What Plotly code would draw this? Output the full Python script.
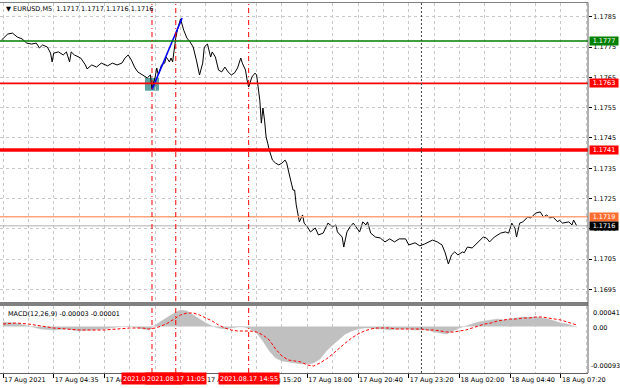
import plotly.graph_objects as go

W, H = 620, 388
FONT = "DejaVu Sans"
FS = 6.5

# ---------------- data ----------------
price_idx = [-1, 3, 6, 9, 12, 15, 18, 21, 23, 25, 28, 30, 31, 32, 35, 38, 40, 42, 43, 45,
             49, 52, 53, 56, 59, 62, 66, 69, 72, 75, 77, 79, 81, 83, 85, 88, 90, 91, 93, 94,
             96, 97, 98, 100, 102, 103, 105, 106, 107, 108, 109, 110, 111, 112, 114, 116, 118, 120, 122, 124,
             126, 127, 129, 131, 132, 134, 136, 138, 140, 142, 144, 146, 148, 150, 151, 153, 154, 155, 157, 159,
             160, 161, 162, 163, 164, 165, 166, 167, 168, 170, 172, 174, 176, 178, 179, 181, 183, 184, 185, 187,
             189, 190, 192, 194, 197, 199, 202, 205, 208, 210, 211, 214, 215, 217, 219, 221, 223, 225, 227, 229,
             230, 232, 235, 238, 241, 244, 247, 250, 254, 256, 260, 263, 266, 269, 271, 274, 277, 279, 281, 283,
             285, 287, 290, 291, 293, 296, 300, 303, 305, 307, 310, 314, 317, 319, 321, 323, 324, 326, 328, 331,
             333, 336, 339, 341, 343, 345, 347, 350, 351, 353, 357, 359, 360, 362]
price_val = [1.17773, 1.17793, 1.17796, 1.17783, 1.17777, 1.17763, 1.17760, 1.17763, 1.17747, 1.17757,
             1.17750, 1.17730, 1.17701, 1.17730, 1.17734, 1.17724, 1.17734, 1.17701, 1.17734, 1.17724,
             1.17714, 1.17691, 1.17678, 1.17691, 1.17684, 1.17697, 1.17688, 1.17697, 1.17691, 1.17697,
             1.17714, 1.17724, 1.17707, 1.17684, 1.17668, 1.17658, 1.17651, 1.17648, 1.17658, 1.17612,
             1.17651, 1.17681, 1.17658, 1.17691, 1.17697, 1.17717, 1.17701, 1.17714, 1.17701, 1.17750,
             1.17780, 1.17806, 1.17823, 1.17843, 1.17806, 1.17780, 1.17767, 1.17750, 1.17707, 1.17658,
             1.17697, 1.17750, 1.17760, 1.17717, 1.17734, 1.17717, 1.17674, 1.17668, 1.17684, 1.17668,
             1.17658, 1.17664, 1.17681, 1.17714, 1.17697, 1.17674, 1.17641, 1.17618, 1.17651, 1.17664,
             1.17658, 1.17608, 1.17575, 1.17499, 1.17549, 1.17509, 1.17453, 1.17433, 1.17410, 1.17377,
             1.17367, 1.17361, 1.17367, 1.17377, 1.17367, 1.17321, 1.17278, 1.17278, 1.17229, 1.17173,
             1.17196, 1.17169, 1.17157, 1.17140, 1.17153, 1.17130, 1.17136, 1.17169, 1.17157, 1.17163,
             1.17140, 1.17123, 1.17090, 1.17140, 1.17157, 1.17169, 1.17153, 1.17140, 1.17173, 1.17163,
             1.17173, 1.17136, 1.17123, 1.17120, 1.17107, 1.17117, 1.17107, 1.17117, 1.17117, 1.17097,
             1.17104, 1.17094, 1.17100, 1.17107, 1.17113, 1.17107, 1.17097, 1.17071, 1.17034, 1.17064,
             1.17074, 1.17064, 1.17074, 1.17071, 1.17090, 1.17087, 1.17107, 1.17123, 1.17120, 1.17107,
             1.17123, 1.17136, 1.17140, 1.17136, 1.17169, 1.17153, 1.17123, 1.17169, 1.17173, 1.17189,
             1.17186, 1.17202, 1.17206, 1.17189, 1.17196, 1.17186, 1.17189, 1.17173, 1.17179, 1.17169,
             1.17173, 1.17163, 1.17179, 1.17160]

macd_idx = [0, 8, 16, 24, 32, 40, 48, 56, 64, 72, 80, 88, 92, 96, 100, 104, 108, 112, 116, 120,
            124, 128, 132, 136, 140, 144, 148, 152, 156, 160, 164, 168, 172, 176, 180, 184, 188, 192, 196, 200,
            204, 208, 212, 216, 220, 224, 228, 232, 236, 240, 244, 248, 252, 256, 260, 264, 268, 272, 276, 280,
            284, 288, 292, 296, 300, 304, 308, 312, 316, 320, 324, 328, 332, 336, 340, 344, 348, 352, 356, 360, 362]
macd_hist = [0.00009, 0.00007, 0.00001, -0.00005, -0.00007, -0.00005, -0.00009, -0.00007, -0.00005, -0.00001,
             0.00001, -0.00005, -0.00007, 0.00003, 0.00011, 0.00019, 0.00027, 0.00033, 0.00031, 0.00023,
             0.00015, 0.00007, 0.00001, -0.00003, -0.00005, -0.00003, -0.00001, -0.00001, -0.00005, -0.00013,
             -0.00029, -0.00049, -0.00063, -0.00069, -0.00071, -0.00073, -0.00075, -0.00075, -0.00073, -0.00065,
             -0.00049, -0.00037, -0.00025, -0.00015, -0.00009, -0.00005, -0.00003, -0.00003, -0.00005, -0.00005,
             -0.00007, -0.00005, -0.00005, -0.00005, -0.00007, -0.00007, -0.00007, -0.00011, -0.00013, -0.00015,
             -0.00009, -0.00003, 0.00001, 0.00005, 0.00009, 0.00011, 0.00013, 0.00015, 0.00013, 0.00015,
             0.00017, 0.00019, 0.00019, 0.00019, 0.00017, 0.00015, 0.00011, 0.00007, 0.00005, 0.00001, -0.00001]
macd_signal = [0.00005, 0.00007, 0.00005, 0.00001, -0.00003, -0.00005, -0.00007, -0.00007, -0.00007, -0.00005,
               -0.00003, -0.00003, -0.00005, -0.00003, 0.00001, 0.00007, 0.00015, 0.00023, 0.00027, 0.00027,
               0.00023, 0.00017, 0.00011, 0.00003, -0.00003, -0.00007, -0.00009, -0.00009, -0.00009, -0.00011,
               -0.00017, -0.00027, -0.00045, -0.00059, -0.00067, -0.00069, -0.00071, -0.00077, -0.00079, -0.00073,
               -0.00065, -0.00055, -0.00043, -0.00033, -0.00023, -0.00015, -0.00009, -0.00005, -0.00003, -0.00003,
               -0.00003, -0.00005, -0.00005, -0.00005, -0.00005, -0.00005, -0.00007, -0.00007, -0.00009, -0.00011,
               -0.00011, -0.00009, -0.00007, -0.00003, 0.00001, 0.00005, 0.00007, 0.00011, 0.00013, 0.00015,
               0.00015, 0.00017, 0.00017, 0.00019, 0.00019, 0.00017, 0.00015, 0.00013, 0.00009, 0.00005, 0.00003]

level_prices = [1.1777, 1.1763, 1.1741, 1.1719]
level_line_colors = ["#008000", "#FF0000", "#FF0000", "#FFA47A"]
level_label_colors = ["#008000", "#FF0000", "#FF0000", "#FF6E2E"]
level_widths = [1.6, 1.6, 3.5, 1.4]
last_price = 1.1716

time_line_idx = [94, 109, 155]
time_line_text = ["2021.08.17 09:50", "2021.08.17 11:05", "2021.08.17 14:55"]
day_sep_idx = 264

trend_idx = [94, 113]
trend_price = [1.1761, 1.17846]
zone_idx = [89.6, 98.4]
zone_price = [1.17606, 1.17648]

tick_idx = [0, 32, 64, 96, 128, 160, 192, 224, 256, 288, 320, 352]
tick_text = ["17 Aug 2021", "17 Aug 04:35", "17 Aug 07:20", "17 Aug 10:00", "17 Aug 12:40", "17 Aug 15:20",
             "17 Aug 18:00", "17 Aug 20:40", "17 Aug 23:20", "18 Aug 02:00", "18 Aug 04:40", "18 Aug 07:20"]
price_ticks = [1.1695, 1.1705, 1.1715, 1.1725, 1.1735, 1.1745, 1.1755, 1.1765, 1.1775, 1.1785]

header = "\u25BC EURUSD,M5  1.1717 1.1717 1.1716 1.1716"
macd_title = "MACD(12,26,9) -0.00003 -0.00001"
macd_max, macd_min = 0.00041, -0.00093

# ---------------- layout helpers (pixel -> paper) ----------------
def py(p):
    return 1 - p / H

def px(p):
    return p / W

X_RIGHT = 588
main_dom = [py(302), py(3)]
macd_dom = [py(373), py(306)]
x_range = [-1.9, 369.1]
y_range = [1.169087, 1.178954]

fig = go.Figure()

fig.add_trace(go.Scatter(x=price_idx, y=price_val, mode="lines",
                         line=dict(color="#000000", width=1), xaxis="x2", yaxis="y",
                         showlegend=False, hoverinfo="skip"))
fig.add_trace(go.Scatter(x=trend_idx, y=trend_price, mode="lines",
                         line=dict(color="#0000FF", width=1.6), xaxis="x2", yaxis="y",
                         showlegend=False, hoverinfo="skip"))
fig.add_trace(go.Scatter(x=macd_idx, y=macd_hist, mode="lines", fill="tozeroy",
                         fillcolor="#C0C0C0", line=dict(color="#C0C0C0", width=0.5),
                         xaxis="x", yaxis="y2", showlegend=False, hoverinfo="skip"))
fig.add_trace(go.Scatter(x=macd_idx, y=macd_signal, mode="lines",
                         line=dict(color="#FF0000", width=1, dash="3px,2px"),
                         xaxis="x", yaxis="y2", showlegend=False, hoverinfo="skip"))

shapes = []
shapes.append(dict(type="rect", xref="x2", yref="y", x0=zone_idx[0], x1=zone_idx[1],
                   y0=zone_price[0], y1=zone_price[1], fillcolor="rgba(40,130,130,0.75)",
                   line=dict(width=0), layer="below"))
for p, c, w in zip(level_prices, level_line_colors, level_widths):
    shapes.append(dict(type="line", xref="paper", yref="y", x0=0, x1=px(X_RIGHT), y0=p, y1=p,
                       line=dict(color=c, width=w)))
shapes.append(dict(type="line", xref="paper", yref="y", x0=0, x1=px(X_RIGHT), y0=last_price, y1=last_price,
                   line=dict(color="#B0B0B0", width=1)))
for t in time_line_idx:
    shapes.append(dict(type="line", xref="x", yref="paper", x0=t, x1=t, y0=macd_dom[0], y1=main_dom[1],
                       line=dict(color="#FF0000", width=1, dash="5px,3px,1px,3px")))
shapes.append(dict(type="line", xref="x", yref="paper", x0=day_sep_idx, x1=day_sep_idx,
                   y0=macd_dom[0], y1=main_dom[1], line=dict(color="#404040", width=1, dash="2px,2px")))
shapes.append(dict(type="rect", xref="paper", yref="paper", x0=0, x1=px(X_RIGHT), y0=py(306), y1=py(302),
                   fillcolor="#808080", line=dict(width=0)))
shapes.append(dict(type="line", xref="paper", yref="paper", x0=0, x1=px(X_RIGHT), y0=py(2.5), y1=py(2.5),
                   line=dict(color="#808080", width=1)))
shapes.append(dict(type="line", xref="paper", yref="paper", x0=px(X_RIGHT), x1=px(X_RIGHT), y0=py(373), y1=py(2.5),
                   line=dict(color="#606060", width=1)))

annotations = []
txt_font = dict(family=FONT, size=FS, color="#000000")
annotations.append(dict(text=header, xref="paper", yref="paper", x=px(4), y=py(9), xanchor="left",
                        yanchor="middle", showarrow=False, font=txt_font))
annotations.append(dict(text=macd_title, xref="paper", yref="paper", x=px(6), y=py(314), xanchor="left",
                        yanchor="middle", showarrow=False, font=txt_font))
# MACD scale labels (MT4 puts max just below the top, min just above the bottom)
annotations.append(dict(text=f"{macd_max:.5f}", xref="paper", yref="paper", x=px(591), y=py(313),
                        xanchor="left", yanchor="middle", showarrow=False, font=txt_font))
annotations.append(dict(text="0.00", xref="paper", yref="paper", x=px(591), y=py(328), xanchor="left",
                        yanchor="middle", showarrow=False, font=txt_font))
annotations.append(dict(text=f"{macd_min:.5f}", xref="paper", yref="paper", x=px(589), y=py(366),
                        xanchor="left", yanchor="middle", showarrow=False, font=txt_font))
for p, c in zip(level_prices, level_label_colors):
    annotations.append(dict(text=f"{p:.4f}", xref="paper", yref="y", x=px(589), y=p, xanchor="left",
                            yanchor="middle", showarrow=False, bgcolor=c, width=28, height=8, borderpad=0,
                            font=dict(family=FONT, size=FS, color="#FFFFFF")))
annotations.append(dict(text=f"{last_price:.4f}", xref="paper", yref="y", x=px(589), y=last_price, xanchor="left",
                        yanchor="middle", showarrow=False, bgcolor="#000000", width=28, height=8, borderpad=0,
                        font=dict(family=FONT, size=FS, color="#FFFFFF")))
for t, s in zip(time_line_idx, time_line_text):
    annotations.append(dict(text=s, xref="x", yref="paper", x=t, y=py(378.5), xanchor="center",
                            yanchor="middle", showarrow=False, bgcolor="#FF0000", height=9, borderpad=1,
                            font=dict(family=FONT, size=FS, color="#FFFFFF")))

grid_col = "#C8C8C8"
fig.update_layout(
    width=W, height=H, margin=dict(l=0, r=0, t=0, b=0, autoexpand=False),
    paper_bgcolor="#FFFFFF", plot_bgcolor="#FFFFFF",
    font=dict(family=FONT, size=FS, color="#000000"),
    showlegend=False,
    xaxis=dict(domain=[0, px(X_RIGHT)], anchor="y2", range=x_range, tickmode="array",
               tickvals=tick_idx, ticktext=tick_text, tickangle=0, ticks="outside", ticklen=4,
               tickcolor="#000000", ticklabelposition="outside right", automargin=False,
               showgrid=True, gridcolor=grid_col, griddash="dot",
               minor=dict(tick0=0, dtick=16, showgrid=True, gridcolor=grid_col, griddash="dot", ticks=""),
               showline=True, linecolor="#606060", zeroline=False,
               tickfont=dict(family=FONT, size=FS, color="#000000")),
    xaxis2=dict(domain=[0, px(X_RIGHT)], anchor="y", matches="x", range=x_range, tickmode="array",
                tickvals=tick_idx, showticklabels=False, ticks="", showgrid=True, gridcolor=grid_col,
                griddash="dot", minor=dict(tick0=0, dtick=16, showgrid=True, gridcolor=grid_col, griddash="dot"),
                zeroline=False, showline=False, automargin=False),
    yaxis=dict(domain=main_dom, anchor="x2", side="right", range=y_range, tickmode="array",
               tickvals=price_ticks, tickformat=".4f", ticks="outside", ticklen=3, tickcolor="#000000",
               showgrid=True, gridcolor=grid_col, griddash="dot", zeroline=False, showline=False,
               automargin=False, tickfont=dict(family=FONT, size=FS, color="#000000")),
    yaxis2=dict(domain=macd_dom, anchor="x", side="right", range=[macd_min, macd_max],
                showticklabels=False, ticks="", showgrid=False, zeroline=False, showline=False,
                automargin=False),
    shapes=shapes, annotations=annotations,
)

fig.write_html("out.html")
